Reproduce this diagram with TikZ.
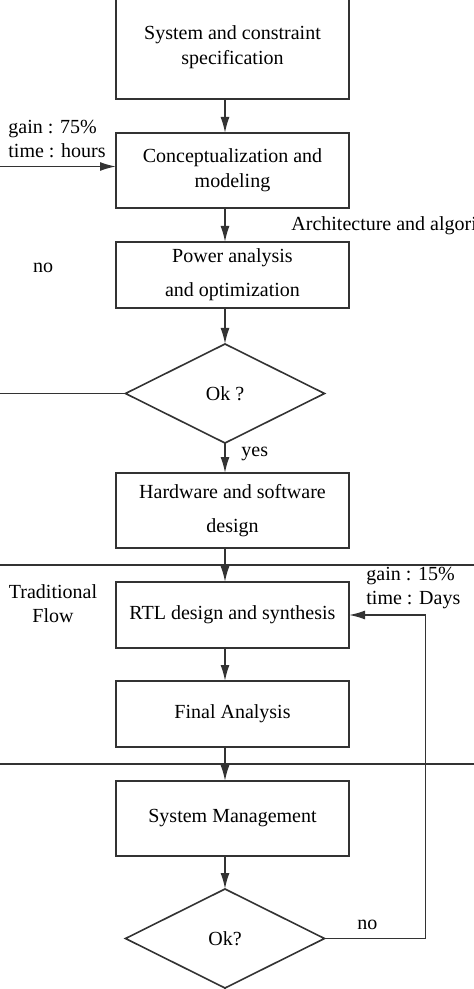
\documentclass[tikz,border=0pt]{standalone}
\usepackage{fontspec}
\setmainfont{Liberation Serif}
\usetikzlibrary{arrows.meta, positioning, shapes.geometric, calc}
\definecolor{LineGray}{HTML}{333333}

\begin{document}
\begin{tikzpicture}[x=0.5pt, y=-0.5pt,
            block/.style={rectangle, draw=LineGray, line width=0.8pt, outer sep=0pt, minimum width=116.5pt, minimum height=37.5pt, align=center, inner sep=2pt, font=\fontsize{10}{12.5}\selectfont},
            short/.style={minimum height=33pt},
            tall/.style={minimum height=52pt},
            decision/.style={diamond, draw=LineGray, line width=0.8pt, outer sep=0pt, aspect=2, minimum width=99.5pt, minimum height=49.5pt, inner sep=0pt, font=\fontsize{10}{12.5}\selectfont},
            flow/.style={draw=LineGray, line width=0.8pt, -{Latex[length=8pt,width=4.5pt]}},
            sep/.style={draw=LineGray, line width=0.8pt},
            note/.style={inner sep=0pt, align=left, font=\fontsize{10}{12}\selectfont}
        ]
            \useasboundingbox (0,0) rectangle (474,989);
            \clip (0,0) rectangle (474,989);
            \coordinate (frameL) at (-10,0);
            \coordinate (frameR) at (484,0);

            % main column
            \node[block, tall] (spec) at (232.5,47) {System and constraint\\specification};
            \node[block, below=17pt of spec] (model) {Conceptualization and\\modeling};
            \node[block, short, below=17pt of model] (power) {Power analysis\\[4.5pt]and optimization};
            \node[decision, below=18pt of power, xshift=-3.75pt] (okA) {Ok ?};
            \node[block, below=15pt of okA, xshift=3.75pt] (hwsw) {Hardware and software\\[4.5pt]design};
            \node[block, short, below=17pt of hwsw] (rtl) {RTL design and synthesis};
            \node[block, short, below=16.5pt of rtl] (final) {Final Analysis};
            \node[block, below=17pt of final] (sysman) {System Management};
            \node[decision, below=16.5pt of sysman, xshift=-3.75pt] (okB) {Ok?};

            \draw[flow] (spec.south -| okA) -- (model.north -| okA);
            \draw[flow] (model.south -| okA) -- (power.north -| okA);
            \draw[flow] (power.south -| okA) -- (okA.north);
            \draw[flow] (okA.south) -- (hwsw.north -| okA);
            \draw[flow] (hwsw.south -| okA) -- (rtl.north -| okA);
            \draw[flow] (rtl.south -| okA) -- (final.north -| okA);
            \draw[flow] (final.south -| okA) -- (sysman.north -| okA);
            \draw[flow] (sysman.south -| okA) -- (okB.north);
            \draw[flow] (okB.south) -- ++(0,24);

            % loops back
            \draw[flow] (okA.west) -- (okA.west -| frameL) |- ([yshift=2pt]model.west);
            \draw[flow] (okB.east) -- ++(101,0) |- (rtl.east);

            % traditional flow band
            \coordinate (cutA) at ($(hwsw.south)!.5!(rtl.north)$);
            \coordinate (cutB) at ($(final.south)!.5!(sysman.north)$);
            \draw[sep] (cutA -| frameL) -- (cutA -| frameR);
            \draw[sep] (cutB -| frameL) -- (cutB -| frameR);

            % labels
            \node[note, anchor=west] (gainA) at (8,139) {gain : 75\%\\time : hours};
            \node[note] (noA) at (43,268) {no};
            \node[note, anchor=west] (archLbl) at (291,226) {Architecture and algori};
            \node[note, anchor=west] (yesLbl) at (241,454) {yes};
            \node[note, align=center] (tradLbl) at (53,604) {Traditional\\Flow};
            \node[note, anchor=west] (gainB) at (366,588) {gain : 15\%\\time : Days};
            \node[note, anchor=west] (noB) at (357,925) {no};
        \end{tikzpicture}
\end{document}
